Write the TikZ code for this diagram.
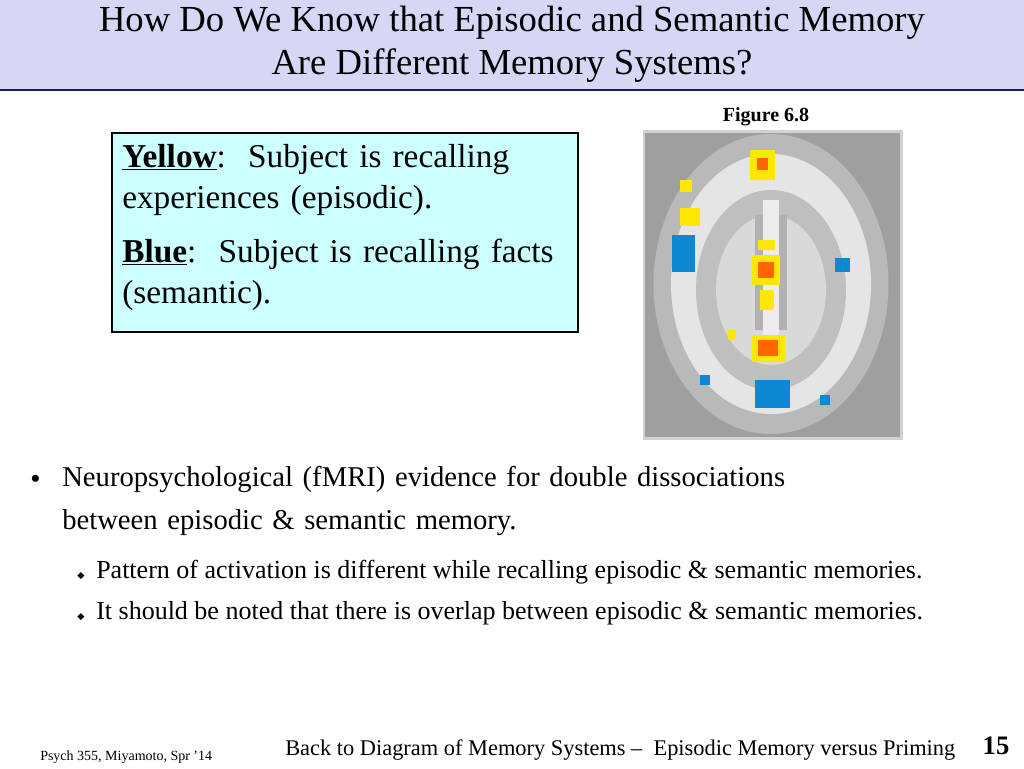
\documentclass[tikz,border=0pt]{standalone}
\usepackage{fontspec}
\setmainfont{Liberation Serif}
\newfontfamily\symfont{DejaVu Sans}
\usetikzlibrary{shapes.geometric}
\definecolor{titlebg}{HTML}{D6D6F5}
\definecolor{navy}{HTML}{1A1A66}
\definecolor{boxbg}{HTML}{CCFFFF}
\tikzset{
  yblob/.style={fill=yellow!90!orange, draw=none},
  oblob/.style={fill=orange!80!red, draw=none},
  bblob/.style={fill=cyan!70!blue, draw=none},
  txt/.style={anchor=west, inner sep=0pt, align=left}
}
\begin{document}
\begin{tikzpicture}[x=0.75pt,y=-0.75pt]
\useasboundingbox (0,0) rectangle (1024,768);
\fill[white] (0,0) rectangle (1024,768);
\fill[titlebg] (0,0) rectangle (1024,89);
\draw[navy,line width=2.2pt] (0,90) -- (1024,90);
\node[inner sep=0pt, align=center, font=\fontsize{27.5}{32}\selectfont] (title) at (512,44) {How Do We Know that Episodic and Semantic Memory\\Are Different Memory Systems?};
\node[inner sep=0pt, font=\fontsize{15}{17}\selectfont\bfseries] (fig) at (766,117) {Figure 6.8};
% text box
\node[draw=black, line width=1.5pt, fill=boxbg, minimum width=466*0.75pt, minimum height=199*0.75pt, anchor=north west] (box) at (111,132) {};
\node[txt, text width=445*0.75pt, align=left, font=\fontsize{25}{31}\selectfont, anchor=north west] (boxtext) at (122,144) {\underline{\textbf{Yellow}}:\ \ Subject is recalling experiences (episodic).\\[9pt]\underline{\textbf{Blue}}:\ \ Subject is recalling facts (semantic).};
% brain image
\fill[gray!35] (643,130) rectangle (903,440);
\fill[gray!75] (645,133) rectangle (900,437);
\node[ellipse, fill=gray!55, minimum width=235*0.75pt, minimum height=300*0.75pt] (brain) at (771,284) {};
\node[ellipse, fill=gray!20, minimum width=200*0.75pt, minimum height=260*0.75pt] (wm) at (771,284) {};
\node[ellipse, fill=gray!50, minimum width=150*0.75pt, minimum height=200*0.75pt] (gm) at (771,290) {};
\node[ellipse, fill=gray!30, minimum width=110*0.75pt, minimum height=150*0.75pt] (inner) at (771,290) {};
\fill[gray!60] (755,215) rectangle (787,330);
\fill[gray!15] (763,200) rectangle (779,360);
\fill[yblob] (750,150) rectangle (775,180);
\fill[oblob] (757,158) rectangle (768,170);
\fill[yblob] (680,180) rectangle (692,192);
\fill[yblob] (680,208) rectangle (700,226);
\fill[yblob] (758,240) rectangle (775,250);
\fill[yblob] (752,255) rectangle (780,285);
\fill[oblob] (758,262) rectangle (774,278);
\fill[yblob] (760,290) rectangle (774,310);
\fill[yblob] (752,335) rectangle (785,362);
\fill[oblob] (758,340) rectangle (778,356);
\fill[yblob] (728,330) rectangle (736,340);
\fill[bblob] (672,235) rectangle (695,272);
\fill[bblob] (835,258) rectangle (850,272);
\fill[bblob] (755,380) rectangle (790,408);
\fill[bblob] (700,375) rectangle (710,385);
\fill[bblob] (820,395) rectangle (830,405);
% bullets
\node[txt, font=\fontsize{22}{28}\selectfont] (b1) at (30,482) {•};
\node[txt, text width=850*0.75pt, font=\fontsize{21.5}{32}\selectfont, anchor=north west] (b1t) at (62,466) {Neuropsychological (fMRI) evidence for double dissociations\\between episodic \& semantic memory.};
\node[txt, font=\symfont\fontsize{7}{8}\selectfont] (d1) at (77,576) {◆};
\node[txt, font=\fontsize{19.5}{22}\selectfont] (s1) at (96,572) {Pattern of activation is different while recalling episodic \& semantic memories.};
\node[txt, font=\symfont\fontsize{7}{8}\selectfont] (d2) at (77,617) {◆};
\node[txt, font=\fontsize{19.5}{22}\selectfont] (s2) at (96,613) {It should be noted that there is overlap between episodic \& semantic memories.};
% footer
\node[txt, font=\fontsize{10.5}{12}\selectfont] (f1) at (40,757) {Psych 355, Miyamoto, Spr '14};
\node[txt, font=\fontsize{16.8}{19}\selectfont] (f2) at (285,750) {Back to Diagram of Memory Systems –\ \ Episodic Memory versus Priming};
\node[inner sep=0pt, font=\fontsize{20}{22}\selectfont\bfseries] (pg) at (996,746) {15};
\end{tikzpicture}
\end{document}
